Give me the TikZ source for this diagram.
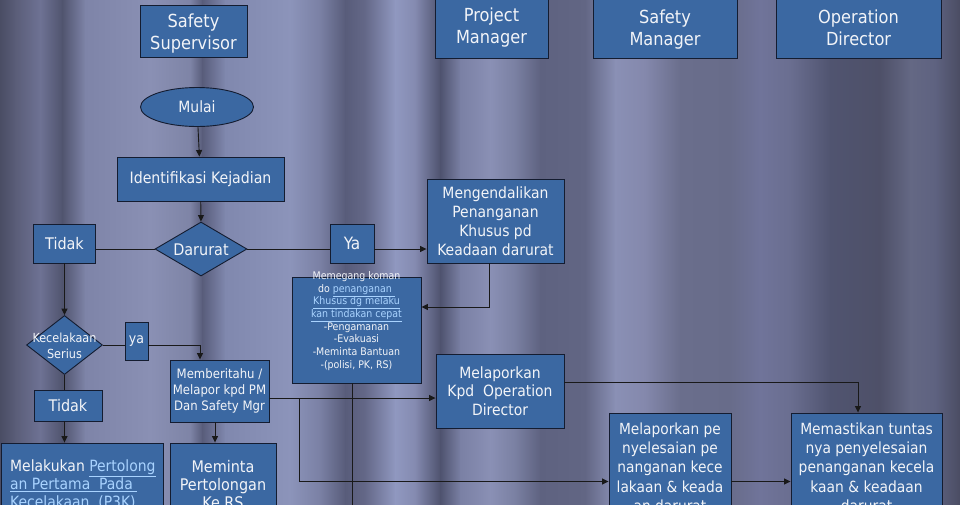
\documentclass[tikz,border=0pt]{standalone}
\usepackage{fontspec}
\setmainfont{DejaVu Sans Condensed}
\usetikzlibrary{shapes.geometric,arrows.meta}
\definecolor{boxfill}{HTML}{3B68A2}
\definecolor{boxline}{HTML}{141C30}
\definecolor{txt}{HTML}{F2F4F8}
\definecolor{lnk}{HTML}{A9D3FF}
\definecolor{g0}{HTML}{4A4D64}
\definecolor{g1}{HTML}{5A5D78}
\definecolor{g2}{HTML}{6E7294}
\definecolor{g3}{HTML}{50546E}
\definecolor{g4}{HTML}{7E84A8}
\definecolor{g5}{HTML}{8A90B4}
\definecolor{g6}{HTML}{7E84A6}
\definecolor{g7}{HTML}{585C7A}
\definecolor{g8}{HTML}{8088AE}
\definecolor{g9}{HTML}{8C94BA}
\definecolor{g10}{HTML}{7A80A4}
\definecolor{g11}{HTML}{585C7A}
\definecolor{g12}{HTML}{646888}
\definecolor{g13}{HTML}{9098C0}
\definecolor{g14}{HTML}{848AB0}
\definecolor{g15}{HTML}{4E526E}
\definecolor{g16}{HTML}{7A80A4}
\definecolor{g17}{HTML}{8A90B5}
\definecolor{g18}{HTML}{7A80A2}
\definecolor{g19}{HTML}{5E6280}
\definecolor{g20}{HTML}{626684}
\definecolor{g21}{HTML}{8A90B5}
\definecolor{g22}{HTML}{8488AC}
\definecolor{g23}{HTML}{6A6E8C}
\definecolor{g24}{HTML}{686C8A}
\definecolor{g25}{HTML}{70749A}
\definecolor{g26}{HTML}{6A6E90}
\definecolor{g27}{HTML}{505470}
\definecolor{g28}{HTML}{4E5068}
\definecolor{g29}{HTML}{646884}
\definecolor{g30}{HTML}{5E6280}
\definecolor{g31}{HTML}{4A4C62}
\newcommand{\lk}[1]{\textcolor{lnk}{\underline{#1}}}
\newcommand{\fsz}[2]{\fontsize{#1}{#2}\selectfont}
\newcommand{\bgs}[4]{\shade[left color=#3,right color=#4] (#1,-2) rectangle ({#2+0.7},506);}
\tikzset{
  box/.style={draw=boxline, line width=0.9pt, fill=boxfill, text=txt, inner sep=0pt, align=center},
  lbl/.style={text=txt, inner sep=0pt, align=center},
  conn/.style={draw=black!90, line width=0.9pt},
  arr/.style={conn, -{Triangle[length=6.5pt,width=6pt]}},
}
\begin{document}
\begin{tikzpicture}[x=1pt,y=-1pt]
\useasboundingbox (0,0) rectangle (960,504);
\clip (0,0) rectangle (960,504);
% background stripes
\bgs{0}{15}{g0}{g1}
\bgs{15}{40}{g1}{g2}
\bgs{40}{62}{g2}{g3}
\bgs{62}{85}{g3}{g4}
\bgs{85}{150}{g4}{g5}
\bgs{150}{190}{g5}{g6}
\bgs{190}{202}{g6}{g7}
\bgs{202}{225}{g7}{g8}
\bgs{225}{290}{g8}{g9}
\bgs{290}{320}{g9}{g10}
\bgs{320}{345}{g10}{g11}
\bgs{345}{365}{g11}{g12}
\bgs{365}{395}{g12}{g13}
\bgs{395}{415}{g13}{g14}
\bgs{415}{440}{g14}{g15}
\bgs{440}{460}{g15}{g16}
\bgs{460}{490}{g16}{g17}
\bgs{490}{515}{g17}{g18}
\bgs{515}{540}{g18}{g19}
\bgs{540}{585}{g19}{g20}
\bgs{585}{615}{g20}{g21}
\bgs{615}{645}{g21}{g22}
\bgs{645}{680}{g22}{g23}
\bgs{680}{730}{g23}{g24}
\bgs{730}{760}{g24}{g25}
\bgs{760}{790}{g25}{g26}
\bgs{790}{830}{g26}{g27}
\bgs{830}{880}{g27}{g28}
\bgs{880}{910}{g28}{g29}
\bgs{910}{935}{g29}{g30}
\bgs{935}{960}{g30}{g31}

% header boxes
\node[box, minimum width=107, minimum height=52] (ss) at (193.5,31) {};
\node[lbl, font=\fsz{18}{22}] (ssT) at (193.5,34) {Safety\\Supervisor};
\node[box, minimum width=113, minimum height=61, font=\fsz{18}{22}] (pm) at (491.5,28) {Project\\Manager};
\node[box, minimum width=144, minimum height=61] (sm) at (665,27.5) {};
\node[lbl, font=\fsz{18}{22}] (smT) at (665,29.5) {Safety\\Manager};
\node[box, minimum width=165, minimum height=61, font=\fsz{18}{22}] (od) at (858.5,27.5) {Operation\\Director};

% flow
\node[box, shape=ellipse, minimum width=113, minimum height=39, font=\fsz{15.5}{18}] (mulai) at (197,107) {Mulai};
\node[box, minimum width=167, minimum height=44, font=\fsz{15.7}{18}] (ident) at (200.5,179) {Identifikasi Kejadian};
\node[box, shape=diamond, minimum width=92, minimum height=54] (darD) at (201,249) {};
\node[lbl, font=\fsz{16}{18}] (darT) at (201,250) {Darurat};
\node[box, minimum width=62, minimum height=39, font=\fsz{16}{18}] (tidak1) at (64.5,243.5) {Tidak};
\node[box, minimum width=44, minimum height=39, font=\fsz{17}{19}] (ya1) at (352,243.5) {Ya};
\node[box, minimum width=137, minimum height=84, font=\fsz{15.5}{19}] (meng) at (495.5,221) {Mengendalikan\\Penanganan\\Khusus pd\\Keadaan darurat};
\node[box, minimum width=129, minimum height=106] (memeg) at (356.5,330) {};
\node[lbl, font=\fsz{10.5}{12.7}] (memegT) at (356.5,321) {Memegang koman\\do \lk{penanganan\ }\\\lk{Khusus dg melaku}\\\lk{kan tindakan cepat}\\-Pengamanan\\-Evakuasi\\-Meminta Bantuan\\-(polisi, PK, RS)};
\node[box, shape=diamond, minimum width=76, minimum height=59] (kecD) at (64.5,345) {};
\node[lbl, font=\fsz{12.5}{16}] (kecT) at (64.5,345.5) {Kecelakaan\\Serius};
\node[box, minimum width=23, minimum height=38, font=\fsz{14}{16}] (ya2) at (136.5,341) {ya};
\node[box, minimum width=99, minimum height=62, font=\fsz{13}{16}] (membr) at (219.5,391) {Memberitahu /\\Melapor kpd PM\\Dan Safety Mgr};
\node[box, minimum width=68, minimum height=31, font=\fsz{16}{19}] (tidak2) at (68,405.5) {Tidak};
\node[box, minimum width=128, minimum height=74, font=\fsz{15.5}{18.5}] (lapod) at (500,391) {Melaporkan\\Kpd\ \ Operation\\Director};
\node[box, minimum width=162, minimum height=84] (melak) at (82,485) {};
\node[lbl, align=left, anchor=north west, font=\fsz{15.5}{18}] (melakT) at (10,460) {Melakukan \lk{Pertolong}\\\lk{an Pertama\ \ Pada\ }\\\lk{Kecelakaan\ \ (P3K)}};
\node[box, minimum width=106, minimum height=84, font=\fsz{16}{18}] (meminta) at (223,485) {Meminta\\Pertolongan\\Ke RS};
\node[box, minimum width=122, minimum height=108, font=\fsz{15.3}{19.3}] (laporpe) at (670,467) {Melaporkan pe\\nyelesaian pe\\nanganan kece\\lakaan \& keada\\an darurat};
\node[box, minimum width=151, minimum height=108, font=\fsz{15.4}{19.3}] (memast) at (866.5,467) {Memastikan tuntas\\nya penyelesaian\\penanganan kecela\\kaan \& keadaan\\darurat};

% helper coordinates
\coordinate (yMeng) at (489,307);
\coordinate (cYa) at (200,345);
\coordinate (yRep) at (0,398);
\coordinate (cBr) at (299,398);
\coordinate (yDone) at (0,481.5);
\coordinate (xDown) at (215,0);
\coordinate (yOD) at (0,382.5);
\coordinate (cOD) at (858,382.5);
\coordinate (memegEnd) at (352,510);

% connectors
\draw[arr] (mulai) -- (ident);
\draw[arr] (ident) -- (darD.north);
\draw[conn] (darD.west) -- (darD.west -| tidak1.east);
\draw[conn] (darD.east) -- (darD.east -| ya1.west);
\draw[arr] (ya1.east |- darD.east) -- (meng.west |- darD.east);
\draw[arr] (yMeng |- meng.south) -- (yMeng) -- (yMeng -| memeg.east);
\draw[arr] (tidak1.south) -- (kecD.north);
\draw[conn] (kecD.east) -- (kecD.east -| ya2.west);
\draw[arr] (ya2.east |- cYa) -- (cYa) -- (cYa |- membr.north);
\draw[conn] (kecD.south) -- (kecD.south |- tidak2.north);
\draw[arr] (kecD.south |- tidak2.south) -- (kecD.south |- melak.north);
\draw[arr] (xDown |- membr.south) -- (xDown |- meminta.north);
\draw[arr] (membr.east |- yRep) -- (lapod.west |- yRep);
\draw[arr] (cBr) -- (cBr |- yDone) -- (laporpe.west |- yDone);
\draw[conn] (memegEnd |- memeg.south) -- (memegEnd);
\draw[arr] (lapod.east |- yOD) -- (cOD) -- (cOD |- memast.north);
\draw[arr] (laporpe.east |- yDone) -- (memast.west |- yDone);
\end{tikzpicture}
\end{document}
